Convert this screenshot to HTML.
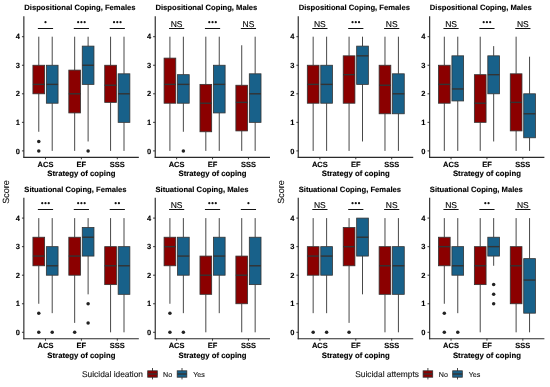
<!DOCTYPE html>
<html><head><meta charset="utf-8"><title>Coping strategies boxplots</title>
<style>
*{margin:0;padding:0}
html,body{width:550px;height:387px;background:#fff;overflow:hidden}
svg{display:block}
#w{width:550px;height:387px;will-change:transform}
text{font-family:"Liberation Sans",sans-serif;fill:#000;text-rendering:geometricPrecision;stroke:#000;stroke-width:0.12px}
.ttl{font-weight:bold;font-size:7.65px}
.yl{font-weight:bold;font-size:7.5px;text-anchor:end}
.xl{font-weight:bold;font-size:7.5px;text-anchor:middle}
.xt{font-weight:bold;font-size:7.75px;text-anchor:middle}
.yt{font-size:9px;text-anchor:middle;fill:#1a1a1a}
.st{font-size:8.5px;text-anchor:middle}
.star{fill:#111}
.lt{font-size:8.4px;fill:#1a1a1a}
.ll{font-size:7.1px;fill:#1a1a1a}
.wk{stroke:#333333;stroke-width:0.9}
.bx{stroke:#333333;stroke-width:0.8}
.md{stroke:#333333;stroke-width:1.4}
.pt{fill:#222}
.sg{stroke:#111;stroke-width:1}
.ax{stroke:#2a2a2a;stroke-width:1.15}
.tk{stroke:#222;stroke-width:0.9}
</style></head>
<body><div id="w"><svg width="550" height="387" viewBox="0 0 550 387">
<rect width="550" height="387" fill="#fff"/>
<text x="24.30" y="10.40" class="ttl">Dispositional Coping, Females</text>
<line x1="38.77" y1="36.70" x2="38.77" y2="65.25" class="wk"/>
<line x1="38.77" y1="93.80" x2="38.77" y2="131.77" class="wk"/>
<rect x="32.92" y="65.25" width="11.70" height="28.55" fill="#8b0000" class="bx"/>
<line x1="32.92" y1="84.38" x2="44.62" y2="84.38" class="md"/>
<circle cx="38.77" cy="141.48" r="1.75" class="pt"/>
<circle cx="38.77" cy="150.90" r="1.75" class="pt"/>
<line x1="52.21" y1="36.70" x2="52.21" y2="65.25" class="wk"/>
<line x1="52.21" y1="103.22" x2="52.21" y2="150.90" class="wk"/>
<rect x="46.36" y="65.25" width="11.70" height="37.97" fill="#18618a" class="bx"/>
<line x1="46.36" y1="84.38" x2="58.06" y2="84.38" class="md"/>
<line x1="37.89" y1="28.50" x2="53.09" y2="28.50" class="sg"/>
<circle cx="45.49" cy="22.20" r="1.1" class="star"/>
<line x1="74.67" y1="36.70" x2="74.67" y2="70.10" class="wk"/>
<line x1="74.67" y1="112.93" x2="74.67" y2="150.90" class="wk"/>
<rect x="68.82" y="70.10" width="11.70" height="42.83" fill="#8b0000" class="bx"/>
<line x1="68.82" y1="93.80" x2="80.52" y2="93.80" class="md"/>
<line x1="88.11" y1="36.70" x2="88.11" y2="46.12" class="wk"/>
<line x1="88.11" y1="84.38" x2="88.11" y2="141.48" class="wk"/>
<rect x="82.26" y="46.12" width="11.70" height="38.26" fill="#18618a" class="bx"/>
<line x1="82.26" y1="65.25" x2="93.96" y2="65.25" class="md"/>
<circle cx="88.11" cy="150.90" r="1.75" class="pt"/>
<line x1="73.79" y1="28.50" x2="88.99" y2="28.50" class="sg"/>
<circle cx="78.14" cy="22.20" r="1.1" class="star"/>
<circle cx="81.39" cy="22.20" r="1.1" class="star"/>
<circle cx="84.64" cy="22.20" r="1.1" class="star"/>
<line x1="110.57" y1="36.70" x2="110.57" y2="65.25" class="wk"/>
<line x1="110.57" y1="102.37" x2="110.57" y2="150.90" class="wk"/>
<rect x="104.72" y="65.25" width="11.70" height="37.12" fill="#8b0000" class="bx"/>
<line x1="104.72" y1="85.24" x2="116.42" y2="85.24" class="md"/>
<line x1="124.01" y1="36.70" x2="124.01" y2="73.81" class="wk"/>
<line x1="124.01" y1="122.35" x2="124.01" y2="150.90" class="wk"/>
<rect x="118.16" y="73.81" width="11.70" height="48.54" fill="#18618a" class="bx"/>
<line x1="118.16" y1="93.80" x2="129.86" y2="93.80" class="md"/>
<line x1="109.69" y1="28.50" x2="124.89" y2="28.50" class="sg"/>
<circle cx="114.04" cy="22.20" r="1.1" class="star"/>
<circle cx="117.29" cy="22.20" r="1.1" class="star"/>
<circle cx="120.54" cy="22.20" r="1.1" class="star"/>
<line x1="23.85" y1="16.30" x2="23.85" y2="157.86" class="ax"/>
<line x1="23.30" y1="157.31" x2="138.83" y2="157.31" class="ax"/>
<line x1="21.95" y1="150.90" x2="23.95" y2="150.90" class="tk"/>
<text x="19.95" y="153.50" class="yl">0</text>
<line x1="21.95" y1="122.35" x2="23.95" y2="122.35" class="tk"/>
<text x="19.95" y="124.95" class="yl">1</text>
<line x1="21.95" y1="93.80" x2="23.95" y2="93.80" class="tk"/>
<text x="19.95" y="96.40" class="yl">2</text>
<line x1="21.95" y1="65.25" x2="23.95" y2="65.25" class="tk"/>
<text x="19.95" y="67.85" class="yl">3</text>
<line x1="21.95" y1="36.70" x2="23.95" y2="36.70" class="tk"/>
<text x="19.95" y="39.30" class="yl">4</text>
<line x1="45.49" y1="157.31" x2="45.49" y2="159.31" class="tk"/>
<text x="45.49" y="166.51" class="xl">ACS</text>
<line x1="81.39" y1="157.31" x2="81.39" y2="159.31" class="tk"/>
<text x="81.39" y="166.51" class="xl">EF</text>
<line x1="117.29" y1="157.31" x2="117.29" y2="159.31" class="tk"/>
<text x="117.29" y="166.51" class="xl">SSS</text>
<text x="81.39" y="176.11" class="xt">Strategy of coping</text>
<text x="155.45" y="10.40" class="ttl">Dispositional Coping, Males</text>
<line x1="169.92" y1="36.70" x2="169.92" y2="58.11" class="wk"/>
<line x1="169.92" y1="103.22" x2="169.92" y2="150.90" class="wk"/>
<rect x="164.07" y="58.11" width="11.70" height="45.11" fill="#8b0000" class="bx"/>
<line x1="164.07" y1="84.38" x2="175.77" y2="84.38" class="md"/>
<line x1="183.36" y1="36.70" x2="183.36" y2="74.67" class="wk"/>
<line x1="183.36" y1="103.22" x2="183.36" y2="131.77" class="wk"/>
<rect x="177.51" y="74.67" width="11.70" height="28.55" fill="#18618a" class="bx"/>
<line x1="177.51" y1="84.38" x2="189.21" y2="84.38" class="md"/>
<circle cx="183.36" cy="150.90" r="1.75" class="pt"/>
<line x1="169.04" y1="28.50" x2="184.24" y2="28.50" class="sg"/>
<text x="176.64" y="26.80" class="st">NS</text>
<line x1="205.82" y1="36.70" x2="205.82" y2="84.38" class="wk"/>
<line x1="205.82" y1="131.77" x2="205.82" y2="150.90" class="wk"/>
<rect x="199.97" y="84.38" width="11.70" height="47.39" fill="#8b0000" class="bx"/>
<line x1="199.97" y1="103.22" x2="211.67" y2="103.22" class="md"/>
<line x1="219.26" y1="36.70" x2="219.26" y2="65.25" class="wk"/>
<line x1="219.26" y1="112.93" x2="219.26" y2="150.90" class="wk"/>
<rect x="213.41" y="65.25" width="11.70" height="47.68" fill="#18618a" class="bx"/>
<line x1="213.41" y1="84.38" x2="225.11" y2="84.38" class="md"/>
<line x1="204.94" y1="28.50" x2="220.14" y2="28.50" class="sg"/>
<circle cx="209.29" cy="22.20" r="1.1" class="star"/>
<circle cx="212.54" cy="22.20" r="1.1" class="star"/>
<circle cx="215.79" cy="22.20" r="1.1" class="star"/>
<line x1="241.72" y1="45.27" x2="241.72" y2="85.24" class="wk"/>
<line x1="241.72" y1="130.92" x2="241.72" y2="150.90" class="wk"/>
<rect x="235.87" y="85.24" width="11.70" height="45.68" fill="#8b0000" class="bx"/>
<line x1="235.87" y1="102.37" x2="247.57" y2="102.37" class="md"/>
<line x1="255.16" y1="36.70" x2="255.16" y2="73.81" class="wk"/>
<line x1="255.16" y1="122.35" x2="255.16" y2="150.90" class="wk"/>
<rect x="249.31" y="73.81" width="11.70" height="48.54" fill="#18618a" class="bx"/>
<line x1="249.31" y1="93.80" x2="261.01" y2="93.80" class="md"/>
<line x1="240.84" y1="28.50" x2="256.04" y2="28.50" class="sg"/>
<text x="248.44" y="26.80" class="st">NS</text>
<line x1="155.25" y1="16.30" x2="155.25" y2="157.86" class="ax"/>
<line x1="154.70" y1="157.31" x2="269.98" y2="157.31" class="ax"/>
<line x1="153.10" y1="150.90" x2="155.10" y2="150.90" class="tk"/>
<text x="151.10" y="153.50" class="yl">0</text>
<line x1="153.10" y1="122.35" x2="155.10" y2="122.35" class="tk"/>
<text x="151.10" y="124.95" class="yl">1</text>
<line x1="153.10" y1="93.80" x2="155.10" y2="93.80" class="tk"/>
<text x="151.10" y="96.40" class="yl">2</text>
<line x1="153.10" y1="65.25" x2="155.10" y2="65.25" class="tk"/>
<text x="151.10" y="67.85" class="yl">3</text>
<line x1="153.10" y1="36.70" x2="155.10" y2="36.70" class="tk"/>
<text x="151.10" y="39.30" class="yl">4</text>
<line x1="176.64" y1="157.31" x2="176.64" y2="159.31" class="tk"/>
<text x="176.64" y="166.51" class="xl">ACS</text>
<line x1="212.54" y1="157.31" x2="212.54" y2="159.31" class="tk"/>
<text x="212.54" y="166.51" class="xl">EF</text>
<line x1="248.44" y1="157.31" x2="248.44" y2="159.31" class="tk"/>
<text x="248.44" y="166.51" class="xl">SSS</text>
<text x="212.54" y="176.11" class="xt">Strategy of coping</text>
<text x="24.30" y="191.80" class="ttl">Situational Coping, Females</text>
<line x1="38.77" y1="218.10" x2="38.77" y2="237.23" class="wk"/>
<line x1="38.77" y1="265.78" x2="38.77" y2="303.75" class="wk"/>
<rect x="32.92" y="237.23" width="11.70" height="28.55" fill="#8b0000" class="bx"/>
<line x1="32.92" y1="256.07" x2="44.62" y2="256.07" class="md"/>
<circle cx="38.77" cy="313.17" r="1.75" class="pt"/>
<circle cx="38.77" cy="332.30" r="1.75" class="pt"/>
<line x1="52.21" y1="218.10" x2="52.21" y2="246.65" class="wk"/>
<line x1="52.21" y1="275.20" x2="52.21" y2="313.17" class="wk"/>
<rect x="46.36" y="246.65" width="11.70" height="28.55" fill="#18618a" class="bx"/>
<line x1="46.36" y1="265.78" x2="58.06" y2="265.78" class="md"/>
<circle cx="52.21" cy="332.30" r="1.75" class="pt"/>
<line x1="37.89" y1="209.50" x2="53.09" y2="209.50" class="sg"/>
<circle cx="42.24" cy="203.20" r="1.1" class="star"/>
<circle cx="45.49" cy="203.20" r="1.1" class="star"/>
<circle cx="48.74" cy="203.20" r="1.1" class="star"/>
<line x1="74.67" y1="218.10" x2="74.67" y2="237.23" class="wk"/>
<line x1="74.67" y1="275.20" x2="74.67" y2="322.88" class="wk"/>
<rect x="68.82" y="237.23" width="11.70" height="37.97" fill="#8b0000" class="bx"/>
<line x1="68.82" y1="256.07" x2="80.52" y2="256.07" class="md"/>
<circle cx="74.67" cy="332.30" r="1.75" class="pt"/>
<line x1="88.11" y1="218.10" x2="88.11" y2="227.52" class="wk"/>
<line x1="88.11" y1="256.07" x2="88.11" y2="294.33" class="wk"/>
<rect x="82.26" y="227.52" width="11.70" height="28.55" fill="#18618a" class="bx"/>
<line x1="82.26" y1="237.23" x2="93.96" y2="237.23" class="md"/>
<circle cx="88.11" cy="303.75" r="1.75" class="pt"/>
<circle cx="88.11" cy="322.88" r="1.75" class="pt"/>
<line x1="73.79" y1="209.50" x2="88.99" y2="209.50" class="sg"/>
<circle cx="78.14" cy="203.20" r="1.1" class="star"/>
<circle cx="81.39" cy="203.20" r="1.1" class="star"/>
<circle cx="84.64" cy="203.20" r="1.1" class="star"/>
<line x1="110.57" y1="218.10" x2="110.57" y2="246.65" class="wk"/>
<line x1="110.57" y1="284.62" x2="110.57" y2="332.30" class="wk"/>
<rect x="104.72" y="246.65" width="11.70" height="37.97" fill="#8b0000" class="bx"/>
<line x1="104.72" y1="265.78" x2="116.42" y2="265.78" class="md"/>
<line x1="124.01" y1="218.10" x2="124.01" y2="246.65" class="wk"/>
<line x1="124.01" y1="294.33" x2="124.01" y2="332.30" class="wk"/>
<rect x="118.16" y="246.65" width="11.70" height="47.68" fill="#18618a" class="bx"/>
<line x1="118.16" y1="265.78" x2="129.86" y2="265.78" class="md"/>
<line x1="109.69" y1="209.50" x2="124.89" y2="209.50" class="sg"/>
<circle cx="115.67" cy="203.20" r="1.1" class="star"/>
<circle cx="118.92" cy="203.20" r="1.1" class="star"/>
<line x1="23.85" y1="197.70" x2="23.85" y2="339.26" class="ax"/>
<line x1="23.30" y1="338.71" x2="138.83" y2="338.71" class="ax"/>
<line x1="21.95" y1="332.30" x2="23.95" y2="332.30" class="tk"/>
<text x="19.95" y="334.90" class="yl">0</text>
<line x1="21.95" y1="303.75" x2="23.95" y2="303.75" class="tk"/>
<text x="19.95" y="306.35" class="yl">1</text>
<line x1="21.95" y1="275.20" x2="23.95" y2="275.20" class="tk"/>
<text x="19.95" y="277.80" class="yl">2</text>
<line x1="21.95" y1="246.65" x2="23.95" y2="246.65" class="tk"/>
<text x="19.95" y="249.25" class="yl">3</text>
<line x1="21.95" y1="218.10" x2="23.95" y2="218.10" class="tk"/>
<text x="19.95" y="220.70" class="yl">4</text>
<line x1="45.49" y1="338.71" x2="45.49" y2="340.71" class="tk"/>
<text x="45.49" y="347.91" class="xl">ACS</text>
<line x1="81.39" y1="338.71" x2="81.39" y2="340.71" class="tk"/>
<text x="81.39" y="347.91" class="xl">EF</text>
<line x1="117.29" y1="338.71" x2="117.29" y2="340.71" class="tk"/>
<text x="117.29" y="347.91" class="xl">SSS</text>
<text x="81.39" y="357.51" class="xt">Strategy of coping</text>
<text x="155.45" y="191.80" class="ttl">Situational Coping, Males</text>
<line x1="169.92" y1="218.10" x2="169.92" y2="237.23" class="wk"/>
<line x1="169.92" y1="265.78" x2="169.92" y2="303.75" class="wk"/>
<rect x="164.07" y="237.23" width="11.70" height="28.55" fill="#8b0000" class="bx"/>
<line x1="164.07" y1="246.65" x2="175.77" y2="246.65" class="md"/>
<circle cx="169.92" cy="313.17" r="1.75" class="pt"/>
<circle cx="169.92" cy="332.30" r="1.75" class="pt"/>
<line x1="183.36" y1="218.10" x2="183.36" y2="237.23" class="wk"/>
<line x1="183.36" y1="275.20" x2="183.36" y2="313.17" class="wk"/>
<rect x="177.51" y="237.23" width="11.70" height="37.97" fill="#18618a" class="bx"/>
<line x1="177.51" y1="256.07" x2="189.21" y2="256.07" class="md"/>
<circle cx="183.36" cy="332.30" r="1.75" class="pt"/>
<line x1="169.04" y1="209.50" x2="184.24" y2="209.50" class="sg"/>
<text x="176.64" y="207.80" class="st">NS</text>
<line x1="205.82" y1="218.10" x2="205.82" y2="256.07" class="wk"/>
<line x1="205.82" y1="294.33" x2="205.82" y2="332.30" class="wk"/>
<rect x="199.97" y="256.07" width="11.70" height="38.26" fill="#8b0000" class="bx"/>
<line x1="199.97" y1="275.20" x2="211.67" y2="275.20" class="md"/>
<line x1="219.26" y1="218.10" x2="219.26" y2="237.23" class="wk"/>
<line x1="219.26" y1="275.20" x2="219.26" y2="313.17" class="wk"/>
<rect x="213.41" y="237.23" width="11.70" height="37.97" fill="#18618a" class="bx"/>
<line x1="213.41" y1="256.07" x2="225.11" y2="256.07" class="md"/>
<line x1="204.94" y1="209.50" x2="220.14" y2="209.50" class="sg"/>
<circle cx="209.29" cy="203.20" r="1.1" class="star"/>
<circle cx="212.54" cy="203.20" r="1.1" class="star"/>
<circle cx="215.79" cy="203.20" r="1.1" class="star"/>
<line x1="241.72" y1="218.10" x2="241.72" y2="256.07" class="wk"/>
<line x1="241.72" y1="303.75" x2="241.72" y2="332.30" class="wk"/>
<rect x="235.87" y="256.07" width="11.70" height="47.68" fill="#8b0000" class="bx"/>
<line x1="235.87" y1="275.20" x2="247.57" y2="275.20" class="md"/>
<line x1="255.16" y1="218.10" x2="255.16" y2="237.23" class="wk"/>
<line x1="255.16" y1="284.62" x2="255.16" y2="332.30" class="wk"/>
<rect x="249.31" y="237.23" width="11.70" height="47.39" fill="#18618a" class="bx"/>
<line x1="249.31" y1="265.78" x2="261.01" y2="265.78" class="md"/>
<line x1="240.84" y1="209.50" x2="256.04" y2="209.50" class="sg"/>
<circle cx="248.44" cy="203.20" r="1.1" class="star"/>
<line x1="155.25" y1="197.70" x2="155.25" y2="339.26" class="ax"/>
<line x1="154.70" y1="338.71" x2="269.98" y2="338.71" class="ax"/>
<line x1="153.10" y1="332.30" x2="155.10" y2="332.30" class="tk"/>
<text x="151.10" y="334.90" class="yl">0</text>
<line x1="153.10" y1="303.75" x2="155.10" y2="303.75" class="tk"/>
<text x="151.10" y="306.35" class="yl">1</text>
<line x1="153.10" y1="275.20" x2="155.10" y2="275.20" class="tk"/>
<text x="151.10" y="277.80" class="yl">2</text>
<line x1="153.10" y1="246.65" x2="155.10" y2="246.65" class="tk"/>
<text x="151.10" y="249.25" class="yl">3</text>
<line x1="153.10" y1="218.10" x2="155.10" y2="218.10" class="tk"/>
<text x="151.10" y="220.70" class="yl">4</text>
<line x1="176.64" y1="338.71" x2="176.64" y2="340.71" class="tk"/>
<text x="176.64" y="347.91" class="xl">ACS</text>
<line x1="212.54" y1="338.71" x2="212.54" y2="340.71" class="tk"/>
<text x="212.54" y="347.91" class="xl">EF</text>
<line x1="248.44" y1="338.71" x2="248.44" y2="340.71" class="tk"/>
<text x="248.44" y="347.91" class="xl">SSS</text>
<text x="212.54" y="357.51" class="xt">Strategy of coping</text>
<text transform="translate(9.40,192.1) rotate(-90)" class="yt">Score</text>
<text x="82.00" y="377.0" class="lt">Suicidal ideation</text>
<line x1="152.50" y1="368.0" x2="152.50" y2="379.4" class="wk"/>
<rect x="147.70" y="370.8" width="9.6" height="6.4" fill="#8b0000" class="bx"/>
<line x1="147.70" y1="374.0" x2="157.30" y2="374.0" class="md"/>
<line x1="182.00" y1="368.0" x2="182.00" y2="379.4" class="wk"/>
<rect x="177.20" y="370.8" width="9.6" height="6.4" fill="#18618a" class="bx"/>
<line x1="177.20" y1="374.0" x2="186.80" y2="374.0" class="md"/>
<text x="163.10" y="376.7" class="ll">No</text>
<text x="193.20" y="376.7" class="ll">Yes</text>
<text x="298.70" y="10.40" class="ttl">Dispositional Coping, Females</text>
<line x1="313.17" y1="36.70" x2="313.17" y2="65.25" class="wk"/>
<line x1="313.17" y1="103.22" x2="313.17" y2="150.90" class="wk"/>
<rect x="307.32" y="65.25" width="11.70" height="37.97" fill="#8b0000" class="bx"/>
<line x1="307.32" y1="84.38" x2="319.02" y2="84.38" class="md"/>
<line x1="326.61" y1="36.70" x2="326.61" y2="65.25" class="wk"/>
<line x1="326.61" y1="103.22" x2="326.61" y2="150.90" class="wk"/>
<rect x="320.76" y="65.25" width="11.70" height="37.97" fill="#18618a" class="bx"/>
<line x1="320.76" y1="84.38" x2="332.46" y2="84.38" class="md"/>
<line x1="312.29" y1="28.50" x2="327.49" y2="28.50" class="sg"/>
<text x="319.89" y="26.80" class="st">NS</text>
<line x1="349.07" y1="36.70" x2="349.07" y2="55.83" class="wk"/>
<line x1="349.07" y1="103.22" x2="349.07" y2="150.90" class="wk"/>
<rect x="343.22" y="55.83" width="11.70" height="47.39" fill="#8b0000" class="bx"/>
<line x1="343.22" y1="74.67" x2="354.92" y2="74.67" class="md"/>
<line x1="362.51" y1="36.70" x2="362.51" y2="46.12" class="wk"/>
<line x1="362.51" y1="84.38" x2="362.51" y2="141.48" class="wk"/>
<rect x="356.66" y="46.12" width="11.70" height="38.26" fill="#18618a" class="bx"/>
<line x1="356.66" y1="55.83" x2="368.36" y2="55.83" class="md"/>
<line x1="348.19" y1="28.50" x2="363.39" y2="28.50" class="sg"/>
<circle cx="352.54" cy="22.20" r="1.1" class="star"/>
<circle cx="355.79" cy="22.20" r="1.1" class="star"/>
<circle cx="359.04" cy="22.20" r="1.1" class="star"/>
<line x1="384.97" y1="36.70" x2="384.97" y2="65.25" class="wk"/>
<line x1="384.97" y1="113.78" x2="384.97" y2="150.90" class="wk"/>
<rect x="379.12" y="65.25" width="11.70" height="48.53" fill="#8b0000" class="bx"/>
<line x1="379.12" y1="85.24" x2="390.82" y2="85.24" class="md"/>
<line x1="398.41" y1="36.70" x2="398.41" y2="73.81" class="wk"/>
<line x1="398.41" y1="113.78" x2="398.41" y2="150.90" class="wk"/>
<rect x="392.56" y="73.81" width="11.70" height="39.97" fill="#18618a" class="bx"/>
<line x1="392.56" y1="93.80" x2="404.26" y2="93.80" class="md"/>
<line x1="384.09" y1="28.50" x2="399.29" y2="28.50" class="sg"/>
<text x="391.69" y="26.80" class="st">NS</text>
<line x1="298.25" y1="16.30" x2="298.25" y2="157.86" class="ax"/>
<line x1="297.70" y1="157.31" x2="413.23" y2="157.31" class="ax"/>
<line x1="296.35" y1="150.90" x2="298.35" y2="150.90" class="tk"/>
<text x="294.35" y="153.50" class="yl">0</text>
<line x1="296.35" y1="122.35" x2="298.35" y2="122.35" class="tk"/>
<text x="294.35" y="124.95" class="yl">1</text>
<line x1="296.35" y1="93.80" x2="298.35" y2="93.80" class="tk"/>
<text x="294.35" y="96.40" class="yl">2</text>
<line x1="296.35" y1="65.25" x2="298.35" y2="65.25" class="tk"/>
<text x="294.35" y="67.85" class="yl">3</text>
<line x1="296.35" y1="36.70" x2="298.35" y2="36.70" class="tk"/>
<text x="294.35" y="39.30" class="yl">4</text>
<line x1="319.89" y1="157.31" x2="319.89" y2="159.31" class="tk"/>
<text x="319.89" y="166.51" class="xl">ACS</text>
<line x1="355.79" y1="157.31" x2="355.79" y2="159.31" class="tk"/>
<text x="355.79" y="166.51" class="xl">EF</text>
<line x1="391.69" y1="157.31" x2="391.69" y2="159.31" class="tk"/>
<text x="391.69" y="166.51" class="xl">SSS</text>
<text x="355.79" y="176.11" class="xt">Strategy of coping</text>
<text x="429.85" y="10.40" class="ttl">Dispositional Coping, Males</text>
<line x1="444.32" y1="36.70" x2="444.32" y2="65.25" class="wk"/>
<line x1="444.32" y1="103.22" x2="444.32" y2="150.90" class="wk"/>
<rect x="438.47" y="65.25" width="11.70" height="37.97" fill="#8b0000" class="bx"/>
<line x1="438.47" y1="84.38" x2="450.17" y2="84.38" class="md"/>
<line x1="457.76" y1="36.70" x2="457.76" y2="55.83" class="wk"/>
<line x1="457.76" y1="100.94" x2="457.76" y2="150.90" class="wk"/>
<rect x="451.91" y="55.83" width="11.70" height="45.11" fill="#18618a" class="bx"/>
<line x1="451.91" y1="88.95" x2="463.61" y2="88.95" class="md"/>
<line x1="443.44" y1="28.50" x2="458.64" y2="28.50" class="sg"/>
<text x="451.04" y="26.80" class="st">NS</text>
<line x1="480.22" y1="36.70" x2="480.22" y2="74.67" class="wk"/>
<line x1="480.22" y1="122.35" x2="480.22" y2="150.90" class="wk"/>
<rect x="474.37" y="74.67" width="11.70" height="47.68" fill="#8b0000" class="bx"/>
<line x1="474.37" y1="103.22" x2="486.07" y2="103.22" class="md"/>
<line x1="493.66" y1="46.12" x2="493.66" y2="55.83" class="wk"/>
<line x1="493.66" y1="93.80" x2="493.66" y2="141.48" class="wk"/>
<rect x="487.81" y="55.83" width="11.70" height="37.97" fill="#18618a" class="bx"/>
<line x1="487.81" y1="74.67" x2="499.51" y2="74.67" class="md"/>
<line x1="479.34" y1="28.50" x2="494.54" y2="28.50" class="sg"/>
<circle cx="483.69" cy="22.20" r="1.1" class="star"/>
<circle cx="486.94" cy="22.20" r="1.1" class="star"/>
<circle cx="490.19" cy="22.20" r="1.1" class="star"/>
<line x1="516.12" y1="36.70" x2="516.12" y2="73.81" class="wk"/>
<line x1="516.12" y1="130.92" x2="516.12" y2="150.90" class="wk"/>
<rect x="510.27" y="73.81" width="11.70" height="57.10" fill="#8b0000" class="bx"/>
<line x1="510.27" y1="102.37" x2="521.97" y2="102.37" class="md"/>
<line x1="529.56" y1="56.69" x2="529.56" y2="93.80" class="wk"/>
<line x1="529.56" y1="137.77" x2="529.56" y2="150.90" class="wk"/>
<rect x="523.71" y="93.80" width="11.70" height="43.97" fill="#18618a" class="bx"/>
<line x1="523.71" y1="113.78" x2="535.41" y2="113.78" class="md"/>
<line x1="515.24" y1="28.50" x2="530.44" y2="28.50" class="sg"/>
<text x="522.84" y="26.80" class="st">NS</text>
<line x1="429.65" y1="16.30" x2="429.65" y2="157.86" class="ax"/>
<line x1="429.10" y1="157.31" x2="544.38" y2="157.31" class="ax"/>
<line x1="427.50" y1="150.90" x2="429.50" y2="150.90" class="tk"/>
<text x="425.50" y="153.50" class="yl">0</text>
<line x1="427.50" y1="122.35" x2="429.50" y2="122.35" class="tk"/>
<text x="425.50" y="124.95" class="yl">1</text>
<line x1="427.50" y1="93.80" x2="429.50" y2="93.80" class="tk"/>
<text x="425.50" y="96.40" class="yl">2</text>
<line x1="427.50" y1="65.25" x2="429.50" y2="65.25" class="tk"/>
<text x="425.50" y="67.85" class="yl">3</text>
<line x1="427.50" y1="36.70" x2="429.50" y2="36.70" class="tk"/>
<text x="425.50" y="39.30" class="yl">4</text>
<line x1="451.04" y1="157.31" x2="451.04" y2="159.31" class="tk"/>
<text x="451.04" y="166.51" class="xl">ACS</text>
<line x1="486.94" y1="157.31" x2="486.94" y2="159.31" class="tk"/>
<text x="486.94" y="166.51" class="xl">EF</text>
<line x1="522.84" y1="157.31" x2="522.84" y2="159.31" class="tk"/>
<text x="522.84" y="166.51" class="xl">SSS</text>
<text x="486.94" y="176.11" class="xt">Strategy of coping</text>
<text x="298.70" y="191.80" class="ttl">Situational Coping, Females</text>
<line x1="313.17" y1="218.10" x2="313.17" y2="246.65" class="wk"/>
<line x1="313.17" y1="275.20" x2="313.17" y2="313.17" class="wk"/>
<rect x="307.32" y="246.65" width="11.70" height="28.55" fill="#8b0000" class="bx"/>
<line x1="307.32" y1="256.07" x2="319.02" y2="256.07" class="md"/>
<circle cx="313.17" cy="332.30" r="1.75" class="pt"/>
<line x1="326.61" y1="218.10" x2="326.61" y2="246.65" class="wk"/>
<line x1="326.61" y1="275.20" x2="326.61" y2="313.17" class="wk"/>
<rect x="320.76" y="246.65" width="11.70" height="28.55" fill="#18618a" class="bx"/>
<line x1="320.76" y1="256.07" x2="332.46" y2="256.07" class="md"/>
<circle cx="326.61" cy="332.30" r="1.75" class="pt"/>
<line x1="312.29" y1="209.50" x2="327.49" y2="209.50" class="sg"/>
<text x="319.89" y="207.80" class="st">NS</text>
<line x1="349.07" y1="218.10" x2="349.07" y2="227.52" class="wk"/>
<line x1="349.07" y1="265.78" x2="349.07" y2="322.88" class="wk"/>
<rect x="343.22" y="227.52" width="11.70" height="38.26" fill="#8b0000" class="bx"/>
<line x1="343.22" y1="246.65" x2="354.92" y2="246.65" class="md"/>
<circle cx="349.07" cy="332.30" r="1.75" class="pt"/>
<line x1="362.51" y1="256.07" x2="362.51" y2="294.33" class="wk"/>
<rect x="356.66" y="218.10" width="11.70" height="37.97" fill="#18618a" class="bx"/>
<line x1="356.66" y1="237.23" x2="368.36" y2="237.23" class="md"/>
<line x1="348.19" y1="209.50" x2="363.39" y2="209.50" class="sg"/>
<circle cx="352.54" cy="203.20" r="1.1" class="star"/>
<circle cx="355.79" cy="203.20" r="1.1" class="star"/>
<circle cx="359.04" cy="203.20" r="1.1" class="star"/>
<line x1="384.97" y1="218.10" x2="384.97" y2="246.65" class="wk"/>
<line x1="384.97" y1="294.33" x2="384.97" y2="332.30" class="wk"/>
<rect x="379.12" y="246.65" width="11.70" height="47.68" fill="#8b0000" class="bx"/>
<line x1="379.12" y1="265.78" x2="390.82" y2="265.78" class="md"/>
<line x1="398.41" y1="218.10" x2="398.41" y2="246.65" class="wk"/>
<line x1="398.41" y1="294.33" x2="398.41" y2="332.30" class="wk"/>
<rect x="392.56" y="246.65" width="11.70" height="47.68" fill="#18618a" class="bx"/>
<line x1="392.56" y1="265.78" x2="404.26" y2="265.78" class="md"/>
<line x1="384.09" y1="209.50" x2="399.29" y2="209.50" class="sg"/>
<text x="391.69" y="207.80" class="st">NS</text>
<line x1="298.25" y1="197.70" x2="298.25" y2="339.26" class="ax"/>
<line x1="297.70" y1="338.71" x2="413.23" y2="338.71" class="ax"/>
<line x1="296.35" y1="332.30" x2="298.35" y2="332.30" class="tk"/>
<text x="294.35" y="334.90" class="yl">0</text>
<line x1="296.35" y1="303.75" x2="298.35" y2="303.75" class="tk"/>
<text x="294.35" y="306.35" class="yl">1</text>
<line x1="296.35" y1="275.20" x2="298.35" y2="275.20" class="tk"/>
<text x="294.35" y="277.80" class="yl">2</text>
<line x1="296.35" y1="246.65" x2="298.35" y2="246.65" class="tk"/>
<text x="294.35" y="249.25" class="yl">3</text>
<line x1="296.35" y1="218.10" x2="298.35" y2="218.10" class="tk"/>
<text x="294.35" y="220.70" class="yl">4</text>
<line x1="319.89" y1="338.71" x2="319.89" y2="340.71" class="tk"/>
<text x="319.89" y="347.91" class="xl">ACS</text>
<line x1="355.79" y1="338.71" x2="355.79" y2="340.71" class="tk"/>
<text x="355.79" y="347.91" class="xl">EF</text>
<line x1="391.69" y1="338.71" x2="391.69" y2="340.71" class="tk"/>
<text x="391.69" y="347.91" class="xl">SSS</text>
<text x="355.79" y="357.51" class="xt">Strategy of coping</text>
<text x="429.85" y="191.80" class="ttl">Situational Coping, Males</text>
<line x1="444.32" y1="218.10" x2="444.32" y2="237.23" class="wk"/>
<line x1="444.32" y1="265.78" x2="444.32" y2="303.75" class="wk"/>
<rect x="438.47" y="237.23" width="11.70" height="28.55" fill="#8b0000" class="bx"/>
<line x1="438.47" y1="246.65" x2="450.17" y2="246.65" class="md"/>
<circle cx="444.32" cy="313.17" r="1.75" class="pt"/>
<circle cx="444.32" cy="332.30" r="1.75" class="pt"/>
<line x1="457.76" y1="218.10" x2="457.76" y2="246.65" class="wk"/>
<line x1="457.76" y1="275.20" x2="457.76" y2="313.17" class="wk"/>
<rect x="451.91" y="246.65" width="11.70" height="28.55" fill="#18618a" class="bx"/>
<line x1="451.91" y1="265.78" x2="463.61" y2="265.78" class="md"/>
<circle cx="457.76" cy="332.30" r="1.75" class="pt"/>
<line x1="443.44" y1="209.50" x2="458.64" y2="209.50" class="sg"/>
<text x="451.04" y="207.80" class="st">NS</text>
<line x1="480.22" y1="218.10" x2="480.22" y2="246.65" class="wk"/>
<line x1="480.22" y1="284.62" x2="480.22" y2="332.30" class="wk"/>
<rect x="474.37" y="246.65" width="11.70" height="37.97" fill="#8b0000" class="bx"/>
<line x1="474.37" y1="265.78" x2="486.07" y2="265.78" class="md"/>
<line x1="493.66" y1="218.10" x2="493.66" y2="237.23" class="wk"/>
<line x1="493.66" y1="256.07" x2="493.66" y2="265.78" class="wk"/>
<rect x="487.81" y="237.23" width="11.70" height="18.84" fill="#18618a" class="bx"/>
<line x1="487.81" y1="246.65" x2="499.51" y2="246.65" class="md"/>
<circle cx="493.66" cy="284.62" r="1.75" class="pt"/>
<circle cx="493.66" cy="294.33" r="1.75" class="pt"/>
<circle cx="493.66" cy="303.75" r="1.75" class="pt"/>
<line x1="479.34" y1="209.50" x2="494.54" y2="209.50" class="sg"/>
<circle cx="485.31" cy="203.20" r="1.1" class="star"/>
<circle cx="488.56" cy="203.20" r="1.1" class="star"/>
<line x1="516.12" y1="218.10" x2="516.12" y2="246.65" class="wk"/>
<line x1="516.12" y1="303.75" x2="516.12" y2="332.30" class="wk"/>
<rect x="510.27" y="246.65" width="11.70" height="57.10" fill="#8b0000" class="bx"/>
<line x1="510.27" y1="265.78" x2="521.97" y2="265.78" class="md"/>
<line x1="529.56" y1="218.10" x2="529.56" y2="258.64" class="wk"/>
<line x1="529.56" y1="313.17" x2="529.56" y2="332.30" class="wk"/>
<rect x="523.71" y="258.64" width="11.70" height="54.53" fill="#18618a" class="bx"/>
<line x1="523.71" y1="280.05" x2="535.41" y2="280.05" class="md"/>
<line x1="515.24" y1="209.50" x2="530.44" y2="209.50" class="sg"/>
<text x="522.84" y="207.80" class="st">NS</text>
<line x1="429.65" y1="197.70" x2="429.65" y2="339.26" class="ax"/>
<line x1="429.10" y1="338.71" x2="544.38" y2="338.71" class="ax"/>
<line x1="427.50" y1="332.30" x2="429.50" y2="332.30" class="tk"/>
<text x="425.50" y="334.90" class="yl">0</text>
<line x1="427.50" y1="303.75" x2="429.50" y2="303.75" class="tk"/>
<text x="425.50" y="306.35" class="yl">1</text>
<line x1="427.50" y1="275.20" x2="429.50" y2="275.20" class="tk"/>
<text x="425.50" y="277.80" class="yl">2</text>
<line x1="427.50" y1="246.65" x2="429.50" y2="246.65" class="tk"/>
<text x="425.50" y="249.25" class="yl">3</text>
<line x1="427.50" y1="218.10" x2="429.50" y2="218.10" class="tk"/>
<text x="425.50" y="220.70" class="yl">4</text>
<line x1="451.04" y1="338.71" x2="451.04" y2="340.71" class="tk"/>
<text x="451.04" y="347.91" class="xl">ACS</text>
<line x1="486.94" y1="338.71" x2="486.94" y2="340.71" class="tk"/>
<text x="486.94" y="347.91" class="xl">EF</text>
<line x1="522.84" y1="338.71" x2="522.84" y2="340.71" class="tk"/>
<text x="522.84" y="347.91" class="xl">SSS</text>
<text x="486.94" y="357.51" class="xt">Strategy of coping</text>
<text transform="translate(283.80,192.1) rotate(-90)" class="yt">Score</text>
<text x="355.20" y="377.0" class="lt">Suicidal attempts</text>
<line x1="427.90" y1="368.0" x2="427.90" y2="379.4" class="wk"/>
<rect x="423.10" y="370.8" width="9.6" height="6.4" fill="#8b0000" class="bx"/>
<line x1="423.10" y1="374.0" x2="432.70" y2="374.0" class="md"/>
<line x1="457.50" y1="368.0" x2="457.50" y2="379.4" class="wk"/>
<rect x="452.70" y="370.8" width="9.6" height="6.4" fill="#18618a" class="bx"/>
<line x1="452.70" y1="374.0" x2="462.30" y2="374.0" class="md"/>
<text x="438.80" y="376.7" class="ll">No</text>
<text x="468.70" y="376.7" class="ll">Yes</text>
</svg></div></body></html>
